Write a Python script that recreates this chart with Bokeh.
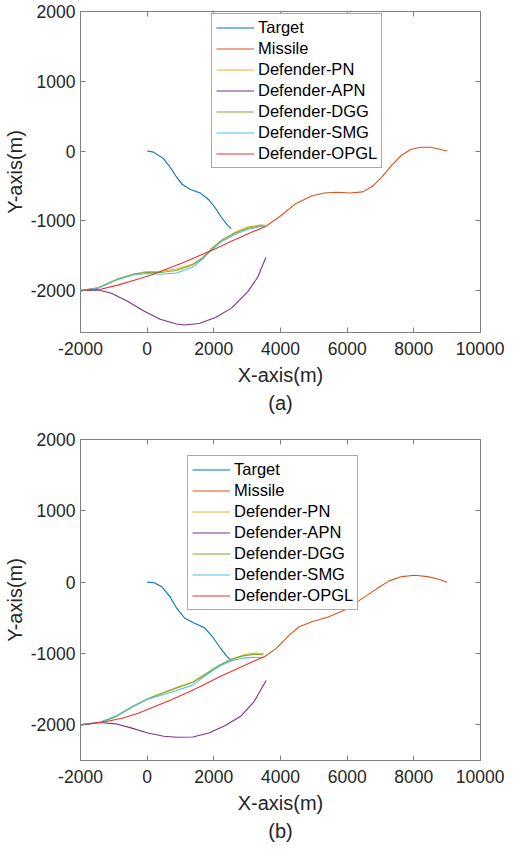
from bokeh.embed import file_html
from bokeh.layouts import column
from bokeh.models import CustomJSTickFormatter, FixedTicker, LinearAxis, Range1d, Title
from bokeh.plotting import figure
from bokeh.resources import INLINE

# ---- panel (a) trajectories (m) ----
target_a_x = [0, 190, 480, 680, 870, 1060, 1300, 1590, 1830, 2030, 2220, 2410, 2520]
target_a_y = [0, -15, -105, -225, -365, -480, -550, -600, -690, -805, -945, -1060, -1110]

missile_a_x = [9000, 8740, 8500, 8210, 7920, 7630, 7340, 7050, 6760, 6470, 6090, 5700, 5310, 4930, 4440, 3960, 3550]
missile_a_y = [0, 30, 55, 55, 25, -60, -200, -365, -505, -585, -600, -590, -600, -645, -760, -945, -1080]

def_a_x = [-2000, -1460, -880, -390, 0, 390, 880, 1370, 1660, 1950, 2240, 2630, 3020, 3410, 3550]
pn_a_y = [-2000, -1955, -1830, -1760, -1728, -1722, -1690, -1620, -1528, -1388, -1270, -1165, -1090, -1055, -1062]
dgg_a_y = [-2000, -1958, -1832, -1762, -1740, -1740, -1712, -1630, -1532, -1395, -1280, -1178, -1105, -1072, -1078]
smg_a_y = [-2000, -1962, -1842, -1772, -1755, -1765, -1748, -1660, -1550, -1410, -1295, -1195, -1120, -1082, -1082]

apn_a_x = [-2000, -1460, -1070, -590, -100, 390, 880, 1120, 1560, 2050, 2540, 3020, 3320, 3560]
apn_a_y = [-2000, -1991, -2037, -2153, -2293, -2409, -2479, -2493, -2470, -2386, -2247, -2014, -1805, -1526]

opgl_a_x = [-2000, -1370, -880, -390, 100, 590, 1070, 1560, 2050, 2540, 3030, 3550]
opgl_a_y = [-2000, -1977, -1921, -1850, -1780, -1690, -1600, -1500, -1400, -1290, -1185, -1080]

# ---- panel (b) ----
target_b_x = [0, 210, 450, 690, 890, 1130, 1420, 1710, 1950, 2190, 2380, 2530]
target_b_y = [0, -9, -69, -207, -368, -506, -575, -634, -759, -920, -1034, -1103]

missile_b_x = [9000, 8750, 8410, 8030, 7640, 7260, 6870, 6580, 6290, 5910, 5430, 4940, 4560, 4270, 3880, 3500]
missile_b_y = [0, 41, 78, 97, 78, 18, -97, -189, -280, -395, -487, -556, -625, -740, -924, -1053]

def_b_x = [-2000, -1430, -950, -460, 20, 400, 890, 1370, 1760, 2140, 2530, 2910, 3200, 3490]
pn_b_y = [-2000, -1968, -1885, -1747, -1632, -1560, -1475, -1395, -1285, -1170, -1078, -1018, -995, -1000]
dgg_b_y = [-2000, -1970, -1890, -1755, -1637, -1568, -1485, -1402, -1290, -1172, -1082, -1030, -1012, -1018]
smg_b_y = [-2000, -1965, -1880, -1745, -1640, -1590, -1520, -1440, -1305, -1185, -1100, -1062, -1055, -1057]

apn_b_x = [-2000, -1430, -950, -460, 20, 500, 890, 1370, 1850, 2330, 2820, 3200, 3570]
apn_b_y = [-2000, -1968, -1986, -2046, -2115, -2161, -2175, -2170, -2115, -2014, -1876, -1678, -1379]

opgl_b_x = [-2000, -1230, -750, -270, 210, 690, 1180, 1660, 2140, 2620, 3110, 3510]
opgl_b_y = [-2000, -1954, -1908, -1839, -1747, -1655, -1554, -1448, -1333, -1232, -1126, -1044]

x_ticks = [-2000, 0, 2000, 4000, 6000, 8000, 10000]
y_ticks = [-2000, -1000, 0, 1000, 2000]

names = ['Target', 'Missile', 'Defender-PN', 'Defender-APN', 'Defender-DGG', 'Defender-SMG', 'Defender-OPGL']
colors = ['#0072BD', '#D95319', '#EDB120', '#7E2F8E', '#77AC30', '#4DBEEE', '#F03030']

FONT = 'Liberation Sans'
GRAY = '#808080'
TXT = '#262626'


def panel(series, y_start, caption, height, top, legend_xy):
    p = figure(width=504, height=height, output_backend='svg', toolbar_location=None,
               x_range=Range1d(-2000, 10000), y_range=Range1d(y_start, 2000),
               min_border_left=70, min_border_right=24, min_border_top=top, min_border_bottom=0,
               x_axis_label='X-axis(m)', y_axis_label='Y-axis(m)')
    p.background_fill_color = 'white'
    p.border_fill_color = 'white'
    p.outline_line_color = GRAY
    p.grid.visible = False

    for (xs, ys), name, color in zip(series, names, colors):
        p.line(xs, ys, line_color=color, line_width=1.1, legend_label=name)

    p.xaxis.ticker = FixedTicker(ticks=x_ticks)
    p.yaxis.ticker = FixedTicker(ticks=y_ticks)
    # MATLAB prints a plain hyphen for negatives
    p.xaxis.major_label_overrides = {t: str(t) for t in x_ticks}
    p.yaxis.major_label_overrides = {t: str(t) for t in y_ticks}
    for ax in p.xaxis + p.yaxis:
        ax.axis_line_color = GRAY
        ax.major_tick_line_color = GRAY
        ax.minor_tick_line_color = None
        ax.major_tick_in = 5
        ax.major_tick_out = 0
        ax.major_label_text_font = FONT
        ax.major_label_text_font_size = '17.5px'
        ax.major_label_text_color = TXT
        ax.axis_label_text_font = FONT
        ax.axis_label_text_font_size = '20px'
        ax.axis_label_text_font_style = 'normal'
        ax.axis_label_text_color = TXT
    p.xaxis.major_label_standoff = 9
    p.xaxis.axis_label_standoff = 6
    p.yaxis.major_label_standoff = 5
    p.yaxis.axis_label_standoff = 2

    # box ticks on the top and right edges, no labels
    for side, tk in (('above', x_ticks), ('right', y_ticks)):
        box = LinearAxis(ticker=FixedTicker(ticks=tk), formatter=CustomJSTickFormatter(code="return ''"),
                         major_label_text_font_size='1px', major_label_standoff=0,
                         axis_line_color=GRAY, major_tick_line_color=GRAY,
                         minor_tick_line_color=None, major_tick_in=5, major_tick_out=0)
        p.add_layout(box, side)

    p.add_layout(Title(text=caption, align='center', text_font=FONT, text_font_size='20px',
                       text_font_style='normal', text_color=TXT, standoff=3), 'below')

    lg = p.legend[0]
    lg.location = legend_xy
    lg.label_text_font = FONT
    lg.label_text_font_size = '16.5px'
    lg.label_text_color = 'black'
    lg.label_height = 19
    lg.glyph_height = 19
    lg.glyph_width = 38
    lg.label_standoff = 4
    lg.spacing = 2
    lg.padding = 4
    lg.margin = 0
    lg.border_line_color = '#555555'
    lg.border_line_width = 1
    lg.background_fill_alpha = 1
    return p


series_a = [(target_a_x, target_a_y), (missile_a_x, missile_a_y), (def_a_x, pn_a_y),
            (apn_a_x, apn_a_y), (def_a_x, dgg_a_y), (def_a_x, smg_a_y), (opgl_a_x, opgl_a_y)]
series_b = [(target_b_x, target_b_y), (missile_b_x, missile_b_y), (def_b_x, pn_b_y),
            (apn_b_x, apn_b_y), (def_b_x, dgg_b_y), (def_b_x, smg_b_y), (opgl_b_x, opgl_b_y)]

pa = panel(series_a, -2600, '(a)', 415, 11, (131, 164))
pb = panel(series_b, -2500, '(b)', 428, 24, (107, 150))

layout = column(pa, pb, spacing=0)
open("out.html", "w").write(file_html(layout, INLINE))
